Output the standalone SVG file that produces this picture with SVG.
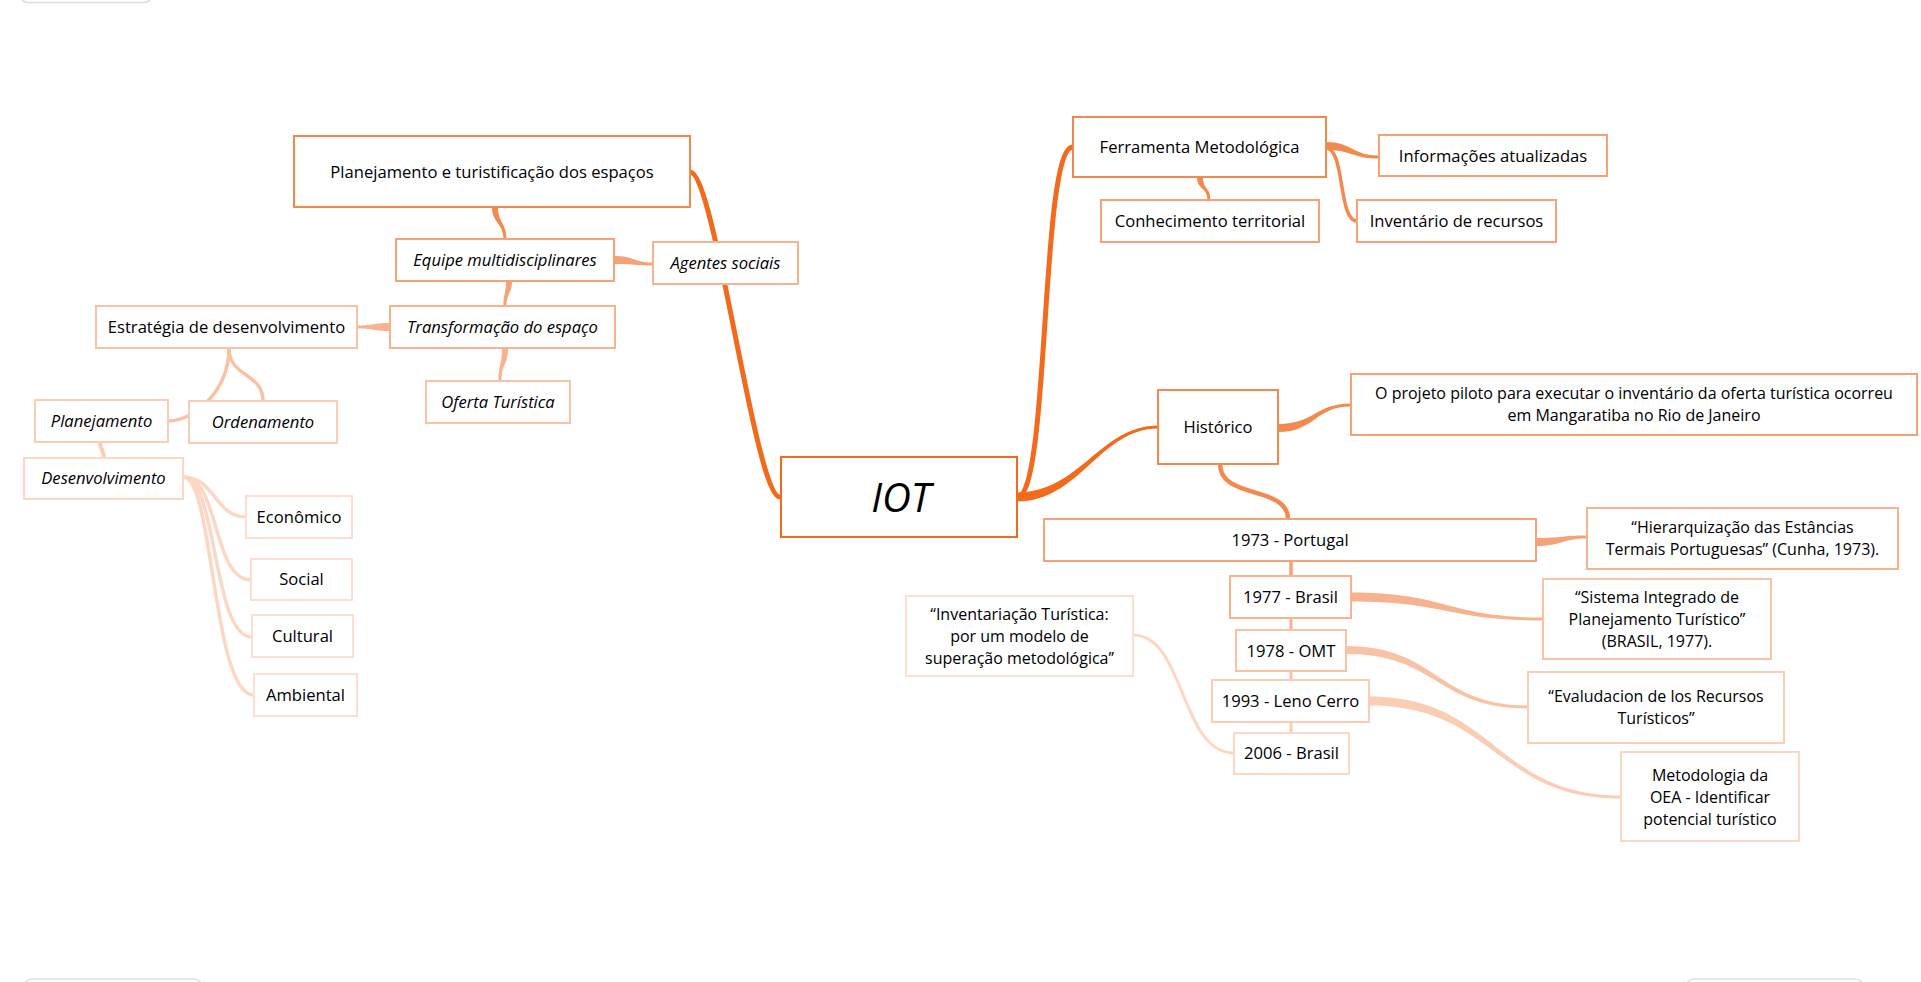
<svg xmlns="http://www.w3.org/2000/svg" width="1921" height="982" viewBox="0 0 1921 982">
<style>
  .n rect { fill:#ffffff; stroke-width:2; }
  .n text { font-family:"Open Sans","Liberation Sans",sans-serif; font-size:16.6px; fill:#000000; text-anchor:middle; }
  .n text.ml { font-size:16px; }
  .it text { font-style:italic; }
  .d0 rect { stroke:#F26A1B; }
  .d1 rect { stroke:#F2894E; }
  .d2 rect { stroke:#F5A276; }
  .d3 rect { stroke:#F7B38F; }
  .d4 rect { stroke:#F9C2A4; }
  .d5 rect { stroke:#FACDB5; }
  .d6 rect { stroke:#FBD7C4; }
  .d7 rect { stroke:#FCDFD0; }
  .s { fill:none; stroke-linecap:round; }
  .c0 { stroke:#F26A1B; } .f0 { fill:#F26A1B; }
  .c1 { stroke:#F2894E; } .f1 { fill:#F2894E; }
  .c2 { stroke:#F5A276; } .f2 { fill:#F5A276; }
  .c3 { stroke:#F7B38F; } .f3 { fill:#F7B38F; }
  .c4 { stroke:#F9C2A4; } .f4 { fill:#F9C2A4; }
  .c5 { stroke:#FACDB5; } .f5 { fill:#FACDB5; }
  .c6 { stroke:#FBD7C4; } .f6 { fill:#FBD7C4; }
  .ui { fill:#ffffff; stroke:#dddddd; stroke-width:1.5; }
</style>

<g id="ui">
  <rect class="ui" x="20" y="-30" width="132" height="32.5" rx="8"/>
  <rect class="ui" x="24" y="979" width="178" height="30" rx="8"/>
  <rect class="ui" x="1686" y="979" width="177" height="30" rx="8"/>
</g>

<g id="connectors">
  <!-- IOT to level 1 -->
  <path class="s c0" stroke-width="5" d="M 780 497 C 755 497 715 172 690 172"/>
  <path class="s c0" stroke-width="5" d="M 1017 497 C 1050 497 1040 147 1073 147"/>
  <path class="f0" d="M 1017 492.5 C 1080 492.5 1100 425.5 1158 425.5 L 1158 428.5 C 1100 428.5 1080 501.5 1017 501.5 Z"/>

  <!-- left branch -->
  <path class="f1" d="M 492 207 C 492 223 503.5 223 503.5 239 L 506.5 239 C 506.5 223 498 223 498 207 Z"/>
  <path class="f2" d="M 614 256 C 634 256 634 262.5 653 262.5 L 653 265.5 C 634 265.5 634 264 614 264 Z"/>
  <path class="f2" d="M 506 281 C 506 294 503.5 293 503.5 306 L 506.5 306 C 506.5 293 512 294 512 281 Z"/>
  <path class="f3" d="M 390 323 C 373 323 373 325.5 357 325.5 L 357 328.5 C 373 328.5 373 331 390 331 Z"/>
  <path class="f3" d="M 502 348 C 502 365 498.5 364 498.5 381 L 501.5 381 C 501.5 364 508 365 508 348 Z"/>
  <path class="s c4" stroke-width="3.5" d="M 229 348 C 229 390 195 421 168 421"/>
  <path class="s c4" stroke-width="3.5" d="M 229 348 C 229 378 263 372 263 401"/>
  <path class="s c5" stroke-width="4" d="M 100 442 C 100 450 104 450 104 458"/>
  <path class="s c6" stroke-width="3.5" d="M 183 477 C 215 477 215 517 246 517"/>
  <path class="s c6" stroke-width="3.5" d="M 183 477 C 220 477 212 580 251 580"/>
  <path class="s c6" stroke-width="3.5" d="M 183 477 C 218 477 212 637 252 637"/>
  <path class="s c6" stroke-width="3.5" d="M 183 477 C 214 477 212 695 254 695"/>

  <!-- right branch -->
  <path class="f1" d="M 1326 142 C 1352 142 1352 155.5 1379 155.5 L 1379 158.5 C 1352 158.5 1352 150 1326 150 Z"/>
  <path class="s c1" stroke-width="3.5" d="M 1326 148 C 1345 148 1338 221 1357 221"/>
  <path class="f1" d="M 1197 177 C 1197 190 1207.5 187 1207.5 200 L 1210.5 200 C 1210.5 187 1203 190 1203 177 Z"/>
  <path class="f1" d="M 1278 424 C 1315 424 1315 403.5 1351 403.5 L 1351 406.5 C 1315 406.5 1315 432 1278 432 Z"/>
  <path class="s c1" stroke-width="4.5" d="M 1220 464 C 1220 500 1288 485 1288 519"/>
  <path class="f2" d="M 1536 538 C 1562 538 1562 535.5 1587 535.5 L 1587 538.5 C 1562 538.5 1562 546 1536 546 Z"/>
  <path class="s c2" stroke-width="3.5" d="M 1291 561 L 1291 576"/>
  <path class="f3" d="M 1351 592.5 C 1447 592.5 1447 617.5 1543 617.5 L 1543 620.5 C 1447 620.5 1447 601.5 1351 601.5 Z"/>
  <path class="s c3" stroke-width="3" d="M 1291 618 L 1291 630"/>
  <path class="f4" d="M 1346 646 C 1437 646 1437 705.5 1528 705.5 L 1528 708.5 C 1437 708.5 1437 654 1346 654 Z"/>
  <path class="s c4" stroke-width="3" d="M 1291 671 L 1291 680"/>
  <path class="f5" d="M 1369 696.5 C 1495 696.5 1495 795.5 1621 795.5 L 1621 798.5 C 1495 798.5 1495 705.5 1369 705.5 Z"/>
  <path class="s c5" stroke-width="3" d="M 1291 722 L 1291 733"/>
  <path class="s c6" stroke-width="3" d="M 1234 753 C 1180 753 1185 635 1133 635"/>
</g>

<g id="node-iot" class="n d0">
  <rect x="781" y="457" width="236" height="80"/>
  <text x="901" y="512" style="font-size:40px;font-style:italic">IOT</text>
</g>

<g id="node-planejamento-turistificacao" class="n d1">
  <rect x="294" y="136" width="396" height="71"/>
  <text x="492" y="177.5">Planejamento e turistificação dos espaços</text>
</g>
<g id="node-equipe" class="n d2 it">
  <rect x="396" y="239" width="218" height="42"/>
  <text x="505" y="265.5">Equipe multidisciplinares</text>
</g>
<g id="node-agentes" class="n d3 it">
  <rect x="653" y="242" width="145" height="42"/>
  <text x="725.5" y="268.5">Agentes sociais</text>
</g>
<g id="node-transformacao" class="n d3 it">
  <rect x="390" y="306" width="225" height="42"/>
  <text x="502.5" y="332.5">Transformação do espaço</text>
</g>
<g id="node-estrategia" class="n d4">
  <rect x="96" y="306" width="261" height="42"/>
  <text x="226.5" y="332.5">Estratégia de desenvolvimento</text>
</g>
<g id="node-oferta" class="n d4 it">
  <rect x="426" y="381" width="144" height="42"/>
  <text x="498" y="407.5">Oferta Turística</text>
</g>
<g id="node-planejamento" class="n d5 it">
  <rect x="35" y="400" width="133" height="42"/>
  <text x="101.5" y="426.5">Planejamento</text>
</g>
<g id="node-ordenamento" class="n d5 it">
  <rect x="189" y="401" width="148" height="42"/>
  <text x="263" y="427.5">Ordenamento</text>
</g>
<g id="node-desenvolvimento" class="n d6 it">
  <rect x="24" y="458" width="159" height="41"/>
  <text x="103.5" y="483.5">Desenvolvimento</text>
</g>
<g id="node-economico" class="n d7">
  <rect x="246" y="496" width="106" height="42"/>
  <text x="299" y="522.5">Econômico</text>
</g>
<g id="node-social" class="n d7">
  <rect x="251" y="559" width="101" height="41"/>
  <text x="301.5" y="585">Social</text>
</g>
<g id="node-cultural" class="n d7">
  <rect x="252" y="615" width="101" height="42"/>
  <text x="302.5" y="641.5">Cultural</text>
</g>
<g id="node-ambiental" class="n d7">
  <rect x="254" y="674" width="103" height="42"/>
  <text x="305.5" y="700.5">Ambiental</text>
</g>

<g id="node-ferramenta" class="n d1">
  <rect x="1073" y="117" width="253" height="60"/>
  <text x="1199.5" y="152.5">Ferramenta Metodológica</text>
</g>
<g id="node-informacoes" class="n d2">
  <rect x="1379" y="135" width="228" height="41"/>
  <text x="1493" y="161.5">Informações atualizadas</text>
</g>
<g id="node-conhecimento" class="n d2">
  <rect x="1101" y="200" width="218" height="42"/>
  <text x="1210" y="226.5">Conhecimento territorial</text>
</g>
<g id="node-inventario" class="n d2">
  <rect x="1357" y="200" width="199" height="42"/>
  <text x="1456.5" y="226.5">Inventário de recursos</text>
</g>
<g id="node-historico" class="n d1">
  <rect x="1158" y="390" width="120" height="74"/>
  <text x="1218" y="433">Histórico</text>
</g>
<g id="node-projeto" class="n d2">
  <rect x="1351" y="374" width="566" height="61"/>
  <text class="ml" x="1634" y="399">O projeto piloto para executar o inventário da oferta turística ocorreu</text>
  <text class="ml" x="1634" y="421">em Mangaratiba no Rio de Janeiro</text>
</g>
<g id="node-1973" class="n d2">
  <rect x="1044" y="519" width="492" height="42"/>
  <text x="1290" y="546">1973 - Portugal</text>
</g>
<g id="node-hierarquizacao" class="n d3">
  <rect x="1587" y="508" width="311" height="61"/>
  <text class="ml" x="1742.5" y="533">“Hierarquização das Estâncias</text>
  <text class="ml" x="1742.5" y="555">Termais Portuguesas” (Cunha, 1973).</text>
</g>
<g id="node-1977" class="n d3">
  <rect x="1230" y="576" width="121" height="42"/>
  <text x="1290.5" y="602.5">1977 - Brasil</text>
</g>
<g id="node-sistema" class="n d4">
  <rect x="1543" y="579" width="228" height="80"/>
  <text class="ml" x="1657" y="602.5">“Sistema Integrado de</text>
  <text class="ml" x="1657" y="624.5">Planejamento Turístico”</text>
  <text class="ml" x="1657" y="646.5">(BRASIL, 1977).</text>
</g>
<g id="node-1978" class="n d4">
  <rect x="1236" y="630" width="110" height="41"/>
  <text x="1291" y="656.5">1978 - OMT</text>
</g>
<g id="node-evaludacion" class="n d5">
  <rect x="1528" y="672" width="256" height="71"/>
  <text class="ml" x="1656" y="702">“Evaludacion de los Recursos</text>
  <text class="ml" x="1656" y="724">Turísticos”</text>
</g>
<g id="node-1993" class="n d5">
  <rect x="1212" y="680" width="157" height="42"/>
  <text x="1290.5" y="706.5">1993 - Leno Cerro</text>
</g>
<g id="node-metodologia" class="n d6">
  <rect x="1621" y="752" width="178" height="89"/>
  <text class="ml" x="1710" y="780.5">Metodologia da</text>
  <text class="ml" x="1710" y="802.5">OEA - Identificar</text>
  <text class="ml" x="1710" y="824.5">potencial turístico</text>
</g>
<g id="node-2006" class="n d6">
  <rect x="1234" y="733" width="115" height="41"/>
  <text x="1291.5" y="759">2006 - Brasil</text>
</g>
<g id="node-inventariacao" class="n d7">
  <rect x="906" y="596" width="227" height="80"/>
  <text class="ml" x="1019.5" y="619.5">“Inventariação Turística:</text>
  <text class="ml" x="1019.5" y="641.5">por um modelo de</text>
  <text class="ml" x="1019.5" y="663.5">superação metodológica’’</text>
</g>
</svg>
